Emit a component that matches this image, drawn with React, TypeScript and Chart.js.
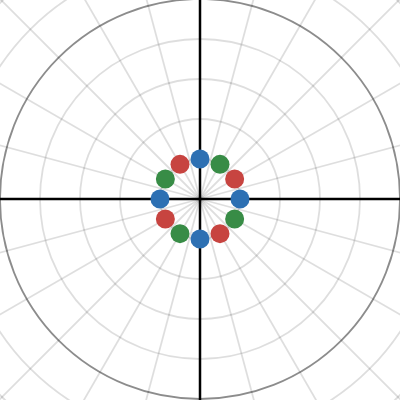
import React, { useEffect, useRef } from 'react';
import { Chart, registerables } from 'chart.js';

Chart.register(...registerables);

// polar data: every dot sits on radius 1, angles in degrees
const dotRadius = 1;
const blueAngles = [0, 90, 180, 270];
const redAngles = [30, 120, 210, 300];
const greenAngles = [60, 150, 240, 330];

// grid description
const gridRings = [1, 2, 3, 4, 5, 6, 7, 8];
const darkRing = 5;
const spokeStep = 15;
const xMin = -5;
const xMax = 5;
const yMin = -5.025;
const yMax = 4.975;

const toXY = (angles: number[]) =>
  angles.map(a => ({
    x: dotRadius * Math.cos((a * Math.PI) / 180),
    y: dotRadius * Math.sin((a * Math.PI) / 180),
  }));

const polarGrid = {
  id: 'polarGrid',
  beforeDatasetsDraw(chart: any) {
    const { ctx, chartArea, scales } = chart;
    const xs = scales.x;
    const ys = scales.y;
    const cx = xs.getPixelForValue(0);
    const cy = ys.getPixelForValue(0);
    const unit = xs.getPixelForValue(1) - cx;
    ctx.save();
    ctx.beginPath();
    ctx.rect(chartArea.left, chartArea.top, chartArea.right - chartArea.left, chartArea.bottom - chartArea.top);
    ctx.clip();

    // spokes
    ctx.strokeStyle = 'rgba(0,0,0,0.13)';
    ctx.lineWidth = 1.8;
    const far = unit * 12;
    for (let a = 0; a < 360; a += spokeStep) {
      const rad = (a * Math.PI) / 180;
      ctx.beginPath();
      ctx.moveTo(cx, cy);
      ctx.lineTo(cx + far * Math.cos(rad), cy - far * Math.sin(rad));
      ctx.stroke();
    }

    // rings
    gridRings.forEach(r => {
      ctx.beginPath();
      ctx.arc(cx, cy, r * unit, 0, Math.PI * 2);
      ctx.strokeStyle = r === darkRing ? 'rgba(0,0,0,0.45)' : 'rgba(0,0,0,0.13)';
      ctx.lineWidth = 1.8;
      ctx.stroke();
    });

    // axes
    ctx.strokeStyle = '#000';
    ctx.lineWidth = 2.5;
    ctx.beginPath();
    ctx.moveTo(chartArea.left, cy);
    ctx.lineTo(chartArea.right, cy);
    ctx.moveTo(cx, chartArea.top);
    ctx.lineTo(cx, chartArea.bottom);
    ctx.stroke();
    ctx.restore();
  },
};

const App: React.FC = () => {
  const chartRef = useRef<HTMLCanvasElement>(null);
  const chartInstance = useRef<Chart | null>(null);

  useEffect(() => {
    document.body.style.margin = '0';
    if (!chartRef.current) return;
    if (chartInstance.current) chartInstance.current.destroy();

    const dataset = (data: { x: number; y: number }[], color: string) => ({
      data,
      backgroundColor: color,
      borderWidth: 0,
      pointRadius: 9.5,
      pointHoverRadius: 9.5,
    });

    chartInstance.current = new Chart(chartRef.current, {
      type: 'scatter',
      data: {
        datasets: [
          dataset(toXY(blueAngles), '#2d70b3'),
          dataset(toXY(redAngles), '#c74440'),
          dataset(toXY(greenAngles), '#388c46'),
        ],
      },
      options: {
        responsive: true,
        maintainAspectRatio: false,
        animation: false,
        layout: { padding: 0, autoPadding: false },
        plugins: { legend: { display: false }, tooltip: { enabled: false } },
        scales: {
          x: { type: 'linear', min: xMin, max: xMax, display: false },
          y: { type: 'linear', min: yMin, max: yMax, display: false },
        },
      },
      plugins: [polarGrid],
    });

    return () => {
      if (chartInstance.current) {
        chartInstance.current.destroy();
        chartInstance.current = null;
      }
    };
  }, []);

  return (
    <div style={{ width: '400px', height: '400px', position: 'relative' }}>
      <canvas ref={chartRef}></canvas>
    </div>
  );
};

export default App;
